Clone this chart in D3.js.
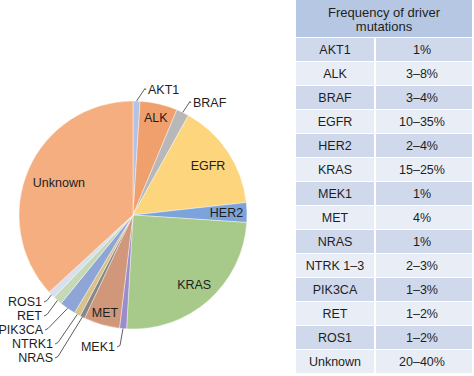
<!DOCTYPE html>
<html>
<head>
  <meta charset='utf-8'>
  <style>
    body { margin: 0; background: #fff; }
    svg { display: block; font-family: "Liberation Sans", Arial, sans-serif; }
  </style>
  <script src="https://cdn.jsdelivr.net/npm/d3@7"></script>
</head>
<body>
  <script>
    // pie slices, clockwise from 12 o'clock (percent share)
    const genes = ["AKT1", "ALK", "BRAF", "EGFR", "HER2", "KRAS", "MEK1", "MET",
      "NRAS", "NTRK1", "PIK3CA", "RET", "ROS1", "Unknown"];
    const shares = [1, 5.3, 1.8, 15.2, 2.8, 24.9, 1, 5.1, 0.7, 0.9, 2.3, 1.3, 1, 36.9];
    const colors = ["#b3c2e7", "#f0a06c", "#b8b8b8", "#fcd57d", "#7ca4db", "#a7c98a", "#9a8dca",
      "#d0977a", "#878787", "#d8c28c", "#8ea5d6", "#c6d9b7", "#d6e0ee", "#f4ae80"];

    // table
    const tableHeader = ["Frequency of driver", "mutations"];
    const tableGenes = ["AKT1", "ALK", "BRAF", "EGFR", "HER2", "KRAS", "MEK1", "MET",
      "NRAS", "NTRK 1–3", "PIK3CA", "RET", "ROS1", "Unknown"];
    const tableFreq = ["1%", "3–8%", "3–4%", "10–35%", "2–4%", "15–25%", "1%", "4%",
      "1%", "2–3%", "1–3%", "1–2%", "1–2%", "20–40%"];

    const [width, height] = [474, 376];
    const svg = d3.select("body").append("svg")
      .attr("width", width).attr("height", height);

    // ---- pie ----
    const cx = 133, cy = 215, r = 114;
    const pie = d3.pie().sort(null).value(d => d.v);
    const arcs = pie(genes.map((g, i) => ({ g, v: shares[i], c: colors[i] })));
    const arc = d3.arc().innerRadius(0).outerRadius(r);
    const gPie = svg.append("g").attr("transform", `translate(${cx},${cy})`);

    gPie.selectAll("path")
      .data(arcs)
      .join("path")
      .attr("d", arc)
      .attr("fill", d => d.data.c)
      .attr("stroke", "#fff")
      .attr("stroke-width", 0.4);

    // labels inside the pie, at a fraction of the radius
    const inside = { ALK: 0.88, EGFR: 0.79, HER2: 0.82, KRAS: 0.81, MET: 0.89, Unknown: 0.71 };
    const onEdge = d3.arc().innerRadius(r).outerRadius(r);
    const insideArc = f => d3.arc().innerRadius(r * f).outerRadius(r * f);

    const fs = 12.5;
    gPie.selectAll("text.in")
      .data(arcs.filter(d => inside[d.data.g]))
      .join("text")
      .attr("class", "in")
      .attr("transform", d => `translate(${insideArc(inside[d.data.g]).centroid(d)})`)
      .attr("text-anchor", "middle")
      .attr("dy", "0.35em")
      .attr("font-size", fs)
      .attr("fill", "#1e1e1e")
      .text(d => d.data.g);

    // labels outside with leader lines: [label x, label y, anchor] relative to pie center
    const outside = {
      AKT1: [15, -125, "start"], BRAF: [60, -112, "start"], MEK1: [-18, 132, "end"],
      ROS1: [-91, 87, "end"], RET: [-91, 101, "end"], PIK3CA: [-90, 115, "end"],
      NTRK1: [-80, 129, "end"], NRAS: [-80, 143, "end"]
    };
    const outs = arcs.filter(d => outside[d.data.g]);
    gPie.selectAll("path.lead")
      .data(outs)
      .join("path")
      .attr("class", "lead")
      .attr("fill", "none")
      .attr("stroke", "#333")
      .attr("stroke-width", 0.8)
      .attr("d", d => {
        const [lx, ly, a] = outside[d.data.g];
        const [ex, ey] = onEdge.centroid(d);
        const sx = a === "start" ? lx - 2 : lx + 2;
        const hx = a === "start" ? sx - 1 : sx + 3;
        return `M${sx},${ly}L${hx},${ly - 1.5}L${ex},${ey}`;
      });
    gPie.selectAll("text.out")
      .data(outs)
      .join("text")
      .attr("class", "out")
      .attr("x", d => outside[d.data.g][0])
      .attr("y", d => outside[d.data.g][1])
      .attr("text-anchor", d => outside[d.data.g][2])
      .attr("dy", "0.35em")
      .attr("font-size", fs)
      .attr("fill", "#1e1e1e")
      .text(d => d.data.g);

    // ---- table ----
    const tx0 = 296, tx1 = 472, colSplit = 375, headH = 37, rowH = 24;
    const y = d3.scaleBand().domain(d3.range(tableGenes.length))
      .range([headH + 1, headH + 1 + rowH * tableGenes.length]);
    const gTab = svg.append("g");
    gTab.append("rect")
      .attr("x", tx0).attr("y", 0).attr("width", tx1 - tx0).attr("height", headH)
      .attr("fill", "#b6c7e3");
    gTab.selectAll("text.head")
      .data(tableHeader)
      .join("text")
      .attr("class", "head")
      .attr("x", (tx0 + tx1) / 2)
      .attr("y", (d, i) => 12 + i * 14)
      .attr("dy", "0.35em")
      .attr("text-anchor", "middle")
      .attr("font-size", 13)
      .attr("fill", "#1e1e1e")
      .text(d => d);

    const rows = gTab.selectAll("g.row")
      .data(tableGenes)
      .join("g")
      .attr("class", "row")
      .attr("transform", (d, i) => `translate(0,${y(i)})`);
    rows.append("rect")
      .attr("x", tx0).attr("width", colSplit - 1 - tx0).attr("height", rowH - 1)
      .attr("fill", (d, i) => i % 2 ? "#e9edf5" : "#d0d9ec");
    rows.append("rect")
      .attr("x", colSplit + 1).attr("width", tx1 - colSplit - 1).attr("height", rowH - 1)
      .attr("fill", (d, i) => i % 2 ? "#e9edf5" : "#d0d9ec");
    rows.append("text")
      .attr("x", 335).attr("y", rowH / 2)
      .attr("dy", "0.35em").attr("text-anchor", "middle")
      .attr("font-size", fs).attr("fill", "#1e1e1e")
      .text(d => d);
    rows.append("text")
      .attr("x", 422).attr("y", rowH / 2)
      .attr("dy", "0.35em").attr("text-anchor", "middle")
      .attr("font-size", fs).attr("fill", "#1e1e1e")
      .text((d, i) => tableFreq[i]);
  </script>
</body>
</html>
